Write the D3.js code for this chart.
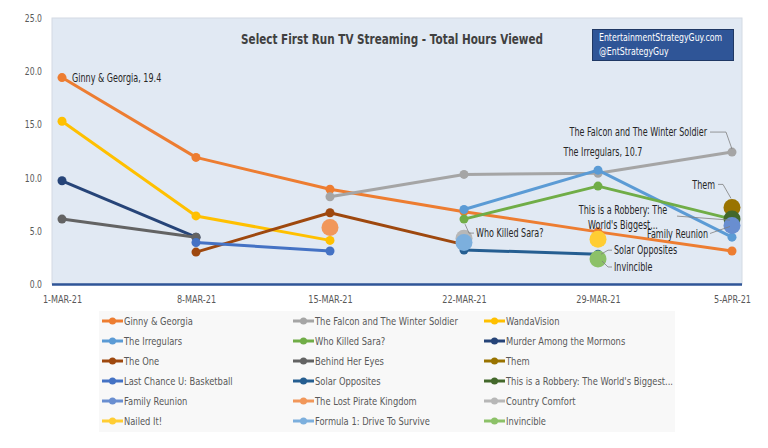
<!DOCTYPE html>
<html>
<head>
<meta charset="utf-8">
<script src="https://cdn.jsdelivr.net/npm/d3@7"></script>
<style>
  body { margin: 0; background: #fff; }
  svg text { font-family: "DejaVu Sans", sans-serif; }
</style>
</head>
<body>
<div id="chart"></div>
<script>
// weeks on the x axis
var weeks = ["1-MAR-21", "8-MAR-21", "15-MAR-21", "22-MAR-21", "29-MAR-21", "5-APR-21"];
var yTicks = [0, 5, 10, 15, 20, 25];

// total hours viewed, null = not in the list that week
var ginnyGeorgia      = [19.4, 11.9, 8.9, 6.8, 4.9, 3.1];
var falconWinter      = [null, null, 8.2, 10.3, 10.4, 12.4];
var wandaVision       = [15.3, 6.4, 4.1, null, null, null];
var irregulars        = [null, null, null, 7.0, 10.7, 4.4];
var whoKilledSara     = [null, null, null, 6.1, 9.2, 6.1];
var murderMormons     = [9.7, 4.4, null, null, null, null];
var theOne            = [null, 3.0, 6.7, 3.7, null, null];
var behindHerEyes     = [6.1, 4.4, null, null, null, null];
var them              = [null, null, null, null, null, 7.2];
var lastChanceU       = [null, 3.9, 3.1, null, null, null];
var solarOpposites    = [null, null, null, 3.2, 2.8, null];
var robbery           = [null, null, null, null, null, 6.1];
var familyReunion     = [null, null, null, null, null, 5.5];
var lostPirate        = [null, null, 5.3, null, null, null];
var countryComfort    = [null, null, null, 4.3, null, null];
var nailedIt          = [null, null, null, null, 4.2, null];
var formula1          = [null, null, null, 3.9, null, null];
var invincible        = [null, null, null, null, 2.35, null];

var seriesNames = ["Ginny & Georgia", "The Falcon and The Winter Soldier", "WandaVision",
  "The Irregulars", "Who Killed Sara?", "Murder Among the Mormons",
  "The One", "Behind Her Eyes", "Them",
  "Last Chance U: Basketball", "Solar Opposites", "This is a Robbery: The World's Biggest...",
  "Family Reunion", "The Lost Pirate Kingdom", "Country Comfort",
  "Nailed It!", "Formula 1: Drive To Survive", "Invincible"];
var seriesValues = [ginnyGeorgia, falconWinter, wandaVision, irregulars, whoKilledSara, murderMormons,
  theOne, behindHerEyes, them, lastChanceU, solarOpposites, robbery,
  familyReunion, lostPirate, countryComfort, nailedIt, formula1, invincible];

var colors = ["#ED7D31", "#A5A5A5", "#FFC000", "#5B9BD5", "#70AD47", "#264478",
  "#9E480E", "#636363", "#997300", "#4472C4", "#255E91", "#43682B",
  "#698ED0", "#F1975A", "#B7B7B7", "#FFCD33", "#7CAFDD", "#8CC168"];

var series = seriesNames.map(function (name, i) {
  return {
    name: name,
    color: colors[i],
    values: seriesValues[i].map(function (v, j) { return { week: weeks[j], value: v }; })
  };
});

var width = 768, height = 448;
var plot = { left: 52, right: 742, top: 18, bottom: 284 };
var squeeze = 0.73; // no narrow font installed, so squash text horizontally

var svg = d3.select("#chart").append("svg")
    .attr("width", width)
    .attr("height", height);

function addText(parent, x, y, str, size, k) {
  return parent.append("text")
      .attr("transform", "translate(" + x + "," + y + ") scale(" + (k || squeeze) + ",1)")
      .style("font-size", size + "px")
      .text(str);
}

var x = d3.scalePoint()
    .domain(weeks)
    .range([plot.left + 10, plot.right - 10]);

var y = d3.scaleLinear()
    .domain([0, 25])
    .range([plot.bottom, plot.top]);

// plot background
svg.append("rect")
    .attr("x", plot.left)
    .attr("y", plot.top)
    .attr("width", plot.right - plot.left)
    .attr("height", plot.bottom - plot.top)
    .attr("fill", "#E1E9F3")
    .attr("stroke", "#D3DAE3")
    .attr("stroke-width", 1);

addText(svg, 392, 44, "Select First Run TV Streaming - Total Hours Viewed", 14.5, 0.72)
    .attr("text-anchor", "middle")
    .attr("fill", "#404040")
    .style("font-weight", "bold");

// y axis labels only
var yAxis = svg.append("g")
    .attr("transform", "translate(" + (plot.left - 10) + ",0)")
    .call(d3.axisLeft(y).tickValues(yTicks).tickFormat(d3.format(".1f")).tickSize(0).tickPadding(0));
yAxis.select(".domain").remove();
yAxis.selectAll("text")
    .attr("fill", "#595959")
    .attr("transform", "scale(0.7,1)")
    .style("font-size", "11px");

var xAxis = svg.append("g")
    .attr("transform", "translate(0," + plot.bottom + ")")
    .call(d3.axisBottom(x).tickSize(0).tickPadding(11));
xAxis.select(".domain").remove();
xAxis.selectAll("text")
    .attr("fill", "#595959")
    .attr("transform", "scale(0.74,1)")
    .style("font-size", "11px");

svg.append("line")
    .attr("x1", plot.left)
    .attr("x2", plot.right)
    .attr("y1", plot.bottom + 0.5)
    .attr("y2", plot.bottom + 0.5)
    .attr("stroke", "#2F5597")
    .attr("stroke-width", 2.5);

var line = d3.line()
    .defined(function (d) { return d.value !== null; })
    .x(function (d) { return x(d.week); })
    .y(function (d) { return y(d.value); });

var g = svg.selectAll(".series")
    .data(series)
    .enter().append("g")
    .attr("class", "series");

g.append("path")
    .attr("d", function (d) { return line(d.values); })
    .attr("fill", "none")
    .attr("stroke", function (d) { return d.color; })
    .attr("stroke-width", 3)
    .attr("stroke-linejoin", "round");

g.each(function (s) {
  var pts = s.values.filter(function (d) { return d.value !== null; });
  // single-week shows get a big marker
  var r = pts.length === 1 ? 8.5 : 4.5;
  d3.select(this).selectAll("circle")
      .data(pts)
      .enter().append("circle")
      .attr("cx", function (d) { return x(d.week); })
      .attr("cy", function (d) { return y(d.value); })
      .attr("r", r)
      .attr("fill", s.color);
});

// data labels with leader lines (dx/dy relative to the point)
var labels = [
  { s: 0, w: 0, text: ["Ginny & Georgia, 19.4"], dx: 10, dy: 0, anchor: "start", leader: null },
  { s: 1, w: 5, text: ["The Falcon and The Winter Soldier"], dx: -25, dy: -20, anchor: "end", leader: [[-22, -20], [-6, -20], [0, -3]] },
  { s: 3, w: 4, text: ["The Irregulars, 10.7"], dx: 5, dy: -18, anchor: "middle", leader: null },
  { s: 4, w: 3, text: ["Who Killed Sara?"], dx: 12, dy: 14, anchor: "start", leader: [[10, 14], [5, 14], [1, 5]] },
  { s: 8, w: 5, text: ["Them"], dx: -17, dy: -23, anchor: "end", leader: [[-14, -23], [-9, -23], [-1, -9]] },
  { s: 11, w: 5, text: ["This is a Robbery: The", "World's Biggest..."], dx: -109, dy: -9, anchor: "middle", leader: [[-55, -3], [-2, 1]] },
  { s: 12, w: 5, text: ["Family Reunion"], dx: -24, dy: 8, anchor: "end", leader: [[-22, 8], [-2, 1]] },
  { s: 10, w: 4, text: ["Solar Opposites"], dx: 16, dy: -4, anchor: "start", leader: [[14, -4], [10, -4], [3, 0]] },
  { s: 17, w: 4, text: ["Invincible"], dx: 16, dy: 8, anchor: "start", leader: [[14, 8], [10, 8], [4, 2]] }
];

var lbl = svg.append("g");
labels.forEach(function (l) {
  var px = x(weeks[l.w]), py = y(seriesValues[l.s][l.w]);
  if (l.leader) {
    lbl.append("path")
        .attr("d", d3.line()(l.leader.map(function (p) { return [px + p[0], py + p[1]]; })))
        .attr("fill", "none")
        .attr("stroke", "#7F7F7F")
        .attr("stroke-width", 0.8);
  }
  var t = addText(lbl, px + l.dx, py + l.dy, null, 12, 0.67)
      .attr("text-anchor", l.anchor)
      .attr("fill", "#262626");
  l.text.forEach(function (line, i) {
    t.append("tspan")
        .attr("x", 0)
        .attr("dy", i === 0 ? "0.35em" : "15px")
        .text(line);
  });
});

// watermark box
svg.append("rect")
    .attr("x", 592.5)
    .attr("y", 29.5)
    .attr("width", 141)
    .attr("height", 31)
    .attr("fill", "#2F5597")
    .attr("stroke", "#1F3864");
addText(svg, 599, 40.5, "EntertainmentStrategyGuy.com", 11, 0.71).attr("fill", "#fff");
addText(svg, 599, 55, "@EntStrategyGuy", 11, 0.71).attr("fill", "#fff");

// legend
var legend = svg.append("g");
legend.append("rect")
    .attr("x", 99)
    .attr("y", 311)
    .attr("width", 576)
    .attr("height", 121)
    .attr("fill", "#F8F8F8");

var item = legend.selectAll(".item")
    .data(series)
    .enter().append("g")
    .attr("transform", function (d, i) {
      return "translate(" + (102 + (i % 3) * 191) + "," + (321 + Math.floor(i / 3) * 20) + ")";
    });
item.append("line")
    .attr("x1", 0).attr("x2", 21)
    .attr("stroke", function (d) { return d.color; })
    .attr("stroke-width", 3);
item.append("circle")
    .attr("cx", 10.5)
    .attr("r", 3.5)
    .attr("fill", function (d) { return d.color; });
item.each(function (d) {
  addText(d3.select(this), 22, 0, d.name, 11, 0.76)
      .attr("dy", "0.35em")
      .attr("fill", "#595959");
});
</script>
</body>
</html>
